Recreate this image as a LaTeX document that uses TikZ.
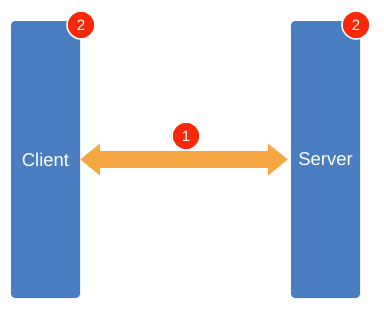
\documentclass[tikz,border=0pt]{standalone}
\usepackage{fontspec}
\setmainfont{Liberation Sans}
\usetikzlibrary{arrows.meta, positioning}
\definecolor{boxblue}{RGB}{74,126,192}
\definecolor{arrorange}{RGB}{245,168,66}
\definecolor{badgered}{RGB}{250,40,10}

\begin{document}
\begin{tikzpicture}[x=1pt, y=1pt,
    side/.style={fill=boxblue, rounded corners=4pt, minimum width=69pt, minimum height=277pt, inner sep=0pt, text=white, font=\fontsize{18.5}{20}\selectfont},
    badge/.style={circle, fill=badgered, draw=white, line width=1.5pt, minimum size=28pt, inner sep=0pt, text=white, font=\fontsize{15}{16}\selectfont}]
    \useasboundingbox (0,0) rectangle (384,309);
    \node[side] (client) at (45.5,149.5) {Client};
    \node[side] (server) at (325.5,149.5) {Server};
    \draw[arrorange, line width=17pt, {Triangle[length=20pt,width=31pt]}-{Triangle[length=20pt,width=31pt]}, shorten >=3pt] (client.east) -- (server.west);
    \node[badge] (num1) at (186,173) {1};
    \node[badge] (numc) at (81,284) {2};
    \node[badge] (nums) at (356,284) {2};
\end{tikzpicture}
\end{document}
